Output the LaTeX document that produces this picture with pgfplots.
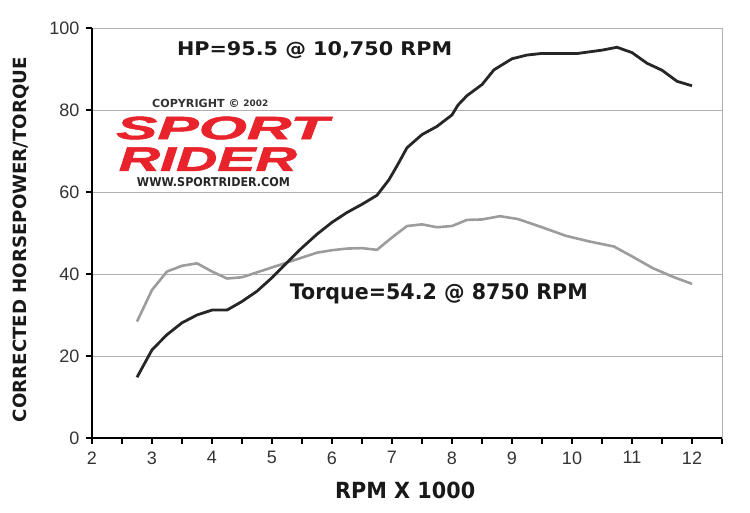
\documentclass[border=0pt]{standalone}
\usepackage{fontspec}
\usepackage{graphicx}
\usepackage{pgfplots}
\pgfplotsset{compat=1.18}
\setmainfont{Liberation Sans}
\newfontfamily\annfont{DejaVu Sans}
\newfontfamily\logofont[FakeBold=1.5]{Liberation Sans Bold Italic}
\definecolor{hpcol}{HTML}{262626}
\definecolor{tqcol}{HTML}{9C9C9C}
\definecolor{gridcol}{HTML}{B0B0B0}
\definecolor{srred}{HTML}{E8232B}
\begin{document}
\begin{tikzpicture}
\begin{axis}[
  name=ax,
  scale only axis,
  width=630pt, height=410pt,
  xmin=2, xmax=12.5, ymin=0, ymax=100,
  xtick={2,3,...,12}, minor xtick={2.5,3.5,...,12.5},
  ytick={0,20,...,100},
  xtick pos=bottom, ytick pos=left,
  tick align=outside,
  major tick length=6pt, minor tick length=6pt,
  every tick/.style={black, line width=1.6pt},
  every minor tick/.style={black, line width=1.6pt},
  ymajorgrids,
  major grid style={gridcol, line width=0.8pt},
  axis line style={gridcol, line width=0.8pt},
  clip=false,
  tick label style={font=\fontsize{18}{18}\selectfont, text=black!80},
  /pgf/number format/assume math mode=true,
  xticklabel style={yshift=-4pt},
  yticklabel style={xshift=-3pt},
]
\addplot[tqcol, line width=2.6pt, line join=round] coordinates {
(2.75,28.4) (3.0,36.1) (3.25,40.6) (3.5,42.0) (3.75,42.6) (4.0,40.6) (4.25,38.9) (4.5,39.2) (4.75,40.4) (5.0,41.6) (5.25,42.8) (5.5,44.0) (5.75,45.2) (6.0,45.8) (6.25,46.2) (6.5,46.3) (6.75,45.9) (7.0,48.9) (7.25,51.7) (7.5,52.1) (7.75,51.4) (8.0,51.7) (8.25,53.2) (8.5,53.3) (8.8,54.1) (9.1,53.4) (9.5,51.4) (9.9,49.3) (10.3,47.9) (10.7,46.7) (11.0,44.3) (11.35,41.4) (11.7,39.2) (12.0,37.6)
};
\addplot[hpcol, line width=2.8pt, line join=round] coordinates {
(2.75,14.8) (3.0,21.5) (3.25,25.2) (3.5,28.1) (3.75,30.0) (4.0,31.2) (4.25,31.2) (4.5,33.3) (4.75,35.8) (5.0,39.1) (5.25,42.8) (5.5,46.4) (5.75,49.7) (6.0,52.6) (6.25,55.0) (6.5,57.0) (6.75,59.2) (6.95,63.0) (7.1,66.8) (7.25,70.8) (7.5,74.0) (7.75,76.0) (8.0,78.8) (8.1,81.2) (8.25,83.5) (8.5,86.2) (8.7,89.8) (9.0,92.5) (9.25,93.4) (9.5,93.8) (10.1,93.8) (10.5,94.6) (10.75,95.3) (11.0,94.0) (11.25,91.4) (11.5,89.7) (11.75,87.0) (12.0,85.9)
};
% frame: left and bottom black
\draw[black, line width=1.8pt] (rel axis cs:0,1) -- (rel axis cs:0,0) -- (rel axis cs:1,0);
% annotations
\node[inner sep=0pt, text=black!90] at (axis cs:5.71,94.6) {\resizebox{275pt}{14pt}{\annfont\bfseries HP=95.5 @ 10,750 RPM}};
\node[inner sep=0pt, text=black!90] at (axis cs:7.78,35.1) {\resizebox{298pt}{16pt}{\annfont\bfseries Torque=54.2 @ 8750 RPM}};
% logo
\node[inner sep=0pt, text=black!80] at (axis cs:3.97,81.5) {\resizebox{116pt}{!}{\annfont\bfseries COPYRIGHT \textcopyright{} \raisebox{1.5pt}{\fontsize{8}{8}\selectfont 2002}}};
\node[text=srred, inner sep=0pt] at (axis cs:4.17,75.6) {\resizebox{212pt}{22.5pt}{\logofont SPORT}};
\node[text=srred, inner sep=0pt] at (axis cs:3.93,68.0) {\resizebox{178pt}{23.5pt}{\logofont RIDER}};
\node[text=black!85, inner sep=0pt] at (axis cs:4.025,62.5) {\resizebox{153pt}{9pt}{\annfont\bfseries WWW.SPORTRIDER.COM}};
% axis labels
\node[rotate=90, inner sep=0pt, text=black!90] at (axis cs:0.825,48.4) {\resizebox{365pt}{13.5pt}{\annfont\bfseries CORRECTED HORSEPOWER/TORQUE}};
\node[inner sep=0pt, text=black!90] at (axis cs:7.22,-12.7) {\resizebox{140pt}{16.5pt}{\annfont\bfseries RPM X 1000}};
\end{axis}
\path[use as bounding box] (-92pt,-75pt) rectangle (658pt,438pt);
\end{tikzpicture}
\end{document}
